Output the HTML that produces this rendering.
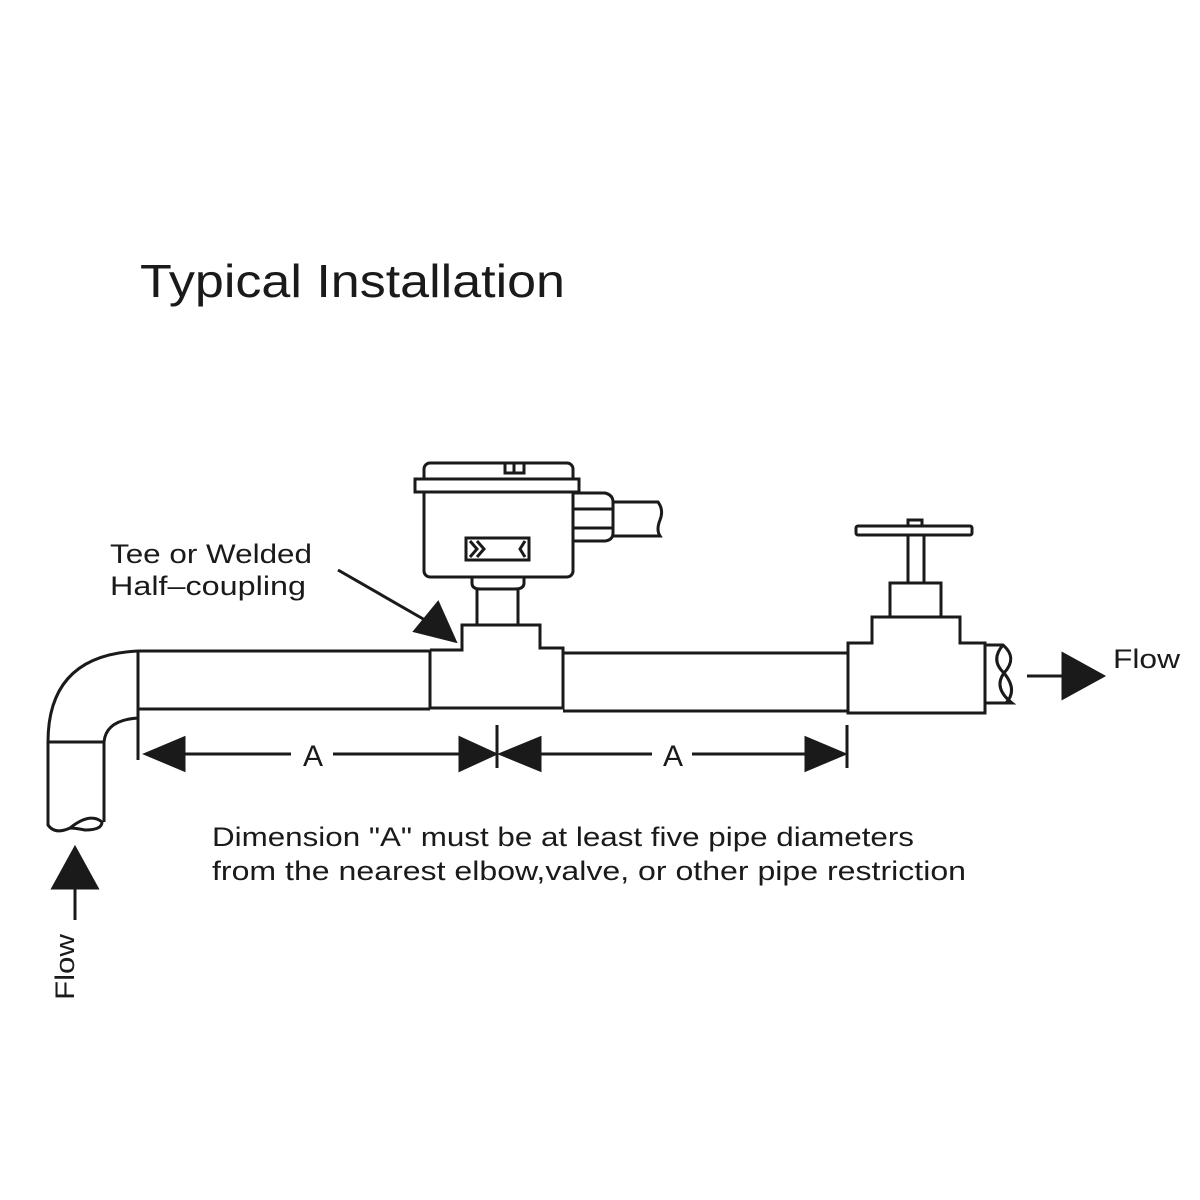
<!DOCTYPE html>
<html><head><meta charset="utf-8"><style>html,body{margin:0;padding:0;background:#fff}svg{display:block}</style></head>
<body>
<svg width="1200" height="1200" viewBox="0 0 1200 1200" xmlns="http://www.w3.org/2000/svg" font-family="Liberation Sans, sans-serif" fill="none" stroke="#1a1a1a" stroke-width="3">
<g fill="#1a1a1a" stroke="none">
<text x="140" y="297" font-size="46" textLength="425" lengthAdjust="spacingAndGlyphs">Typical Installation</text>
<text x="110" y="563" font-size="27" textLength="202" lengthAdjust="spacingAndGlyphs">Tee or Welded</text>
<text x="110" y="595" font-size="27" textLength="196" lengthAdjust="spacingAndGlyphs">Half–coupling</text>
<text x="212" y="846" font-size="27" textLength="702" lengthAdjust="spacingAndGlyphs">Dimension "A" must be at least five pipe diameters</text>
<text x="212" y="880" font-size="27" textLength="754" lengthAdjust="spacingAndGlyphs">from the nearest elbow,valve, or other pipe restriction</text>
<text x="1113" y="668" font-size="27" textLength="67" lengthAdjust="spacingAndGlyphs">Flow</text>
<text transform="translate(74,1000) rotate(-90)" font-size="27" textLength="66" lengthAdjust="spacingAndGlyphs">Flow</text>
<text x="313" y="766" font-size="30" text-anchor="middle">A</text>
<text x="673" y="766" font-size="30" text-anchor="middle">A</text>
</g>
<!-- elbow -->
<path d="M48 742 Q48 655 138 651"/>
<path d="M104 742 Q106 720 138 718"/>
<line x1="48" y1="742" x2="104" y2="742"/>
<path d="M48 742 V825 Q55 835 70 828 Q90 812 102 822 Q102 830 85 830 Q75 828 70 828"/>
<line x1="104" y1="742" x2="104" y2="822"/>
<line x1="138" y1="651" x2="138" y2="760"/>
<!-- left pipe -->
<line x1="138" y1="651" x2="430" y2="651"/>
<line x1="138" y1="709" x2="430" y2="709"/>
<line x1="430" y1="651" x2="430" y2="709"/>
<!-- tee -->
<path d="M430 650 H462 V625 H540 V648 H563 V708 H430"/>
<line x1="563" y1="653" x2="848" y2="653"/>
<line x1="563" y1="711" x2="848" y2="711"/>
<!-- stem -->
<line x1="477" y1="589" x2="477" y2="625"/>
<line x1="518" y1="589" x2="518" y2="625"/>
<path d="M472 577 V583 Q472 589 480 589 H515 Q524 589 524 583 V577"/>
<!-- box -->
<rect x="424" y="463" width="149" height="114" rx="6"/>
<rect x="415" y="479" width="164" height="13" fill="#fff"/>
<rect x="505" y="463" width="19" height="10"/>
<line x1="514" y1="463" x2="514" y2="473"/>
<rect x="466" y="538" width="63" height="22"/>
<path d="M470 541 L477 549 L470 557 M477 541 L484 549 L477 557 M525 541 L520 549 L525 557"/>
<path d="M574 493 H605 Q613 495 613 502 V533 Q613 540 605 541 H574"/>
<line x1="574" y1="509" x2="613" y2="509"/>
<line x1="574" y1="528" x2="613" y2="528"/>
<path d="M613 502 H658 Q664 510 660 520 Q656 530 660 536 H613"/>
<!-- valve -->
<path d="M848 643 H872 V617 H960 V643 H985 V713 H848 Z"/>
<rect x="890" y="583" width="51" height="34"/>
<line x1="908" y1="535" x2="908" y2="583"/>
<line x1="924" y1="535" x2="924" y2="583"/>
<rect x="856" y="526" width="116" height="9" rx="2"/>
<rect x="908" y="520" width="14" height="6"/>
<path d="M985 645 H1003 Q1018 658 1004 673 Q993 688 1012 703 H985"/>
<path d="M1003 645 Q990 660 1004 673 Q1018 690 1006 703"/>
<!-- arrows -->
<line x1="1027" y1="676" x2="1063" y2="676"/>
<polygon points="1063,654 1103,676 1063,698" fill="#1a1a1a"/>
<polygon points="75,848 53,888 97,888" fill="#1a1a1a"/>
<line x1="75" y1="888" x2="75" y2="920"/>
<line x1="338" y1="570" x2="425" y2="620"/>
<polygon points="455,641 415,631 438,603" fill="#1a1a1a"/>
<!-- dimensions -->
<line x1="497" y1="725" x2="497" y2="768"/>
<line x1="847" y1="725" x2="847" y2="768"/>
<polygon points="146,754 184,738 184,770" fill="#1a1a1a"/>
<line x1="184" y1="754" x2="291" y2="754"/>
<line x1="333" y1="754" x2="460" y2="754"/>
<polygon points="495,754 460,738 460,770" fill="#1a1a1a"/>
<polygon points="501,754 540,738 540,770" fill="#1a1a1a"/>
<line x1="540" y1="754" x2="652" y2="754"/>
<line x1="692" y1="754" x2="806" y2="754"/>
<polygon points="844,754 806,738 806,770" fill="#1a1a1a"/>
</svg>
</body></html>
